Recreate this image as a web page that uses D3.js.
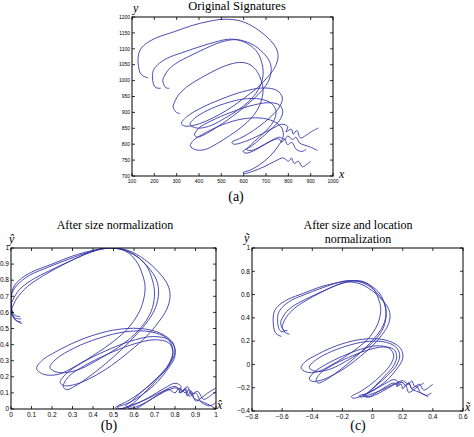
<!DOCTYPE html>
<html lang="en"><head>
<meta charset="utf-8">
<title>Signatures</title>
<script src="https://cdn.jsdelivr.net/npm/d3@7"></script>
<style>
body { margin: 0; background: #fff; }
text { font-family: "Liberation Serif", "Times New Roman", serif; }
.tick { font-family: "Liberation Sans", Arial, sans-serif; }
</style>
</head>
<body>
<script type="text/javascript">

// four signatures after size normalization
var sig1 = [[0.055,0.53],[0.03,0.545],[0.012,0.57],[0.003,0.62],[0.0,0.68],[0.01,0.75],[0.04,0.8],[0.1,0.85],[0.2,0.9],[0.3,0.95],[0.4,0.985],[0.48,1.0],[0.57,0.985],[0.65,0.93],[0.72,0.85],[0.765,0.77],[0.776,0.7],[0.76,0.62],[0.72,0.54],[0.66,0.45],[0.58,0.36],[0.49,0.27],[0.4,0.2],[0.32,0.155],[0.26,0.145],[0.24,0.165],[0.27,0.22],[0.35,0.29],[0.46,0.36],[0.58,0.42],[0.69,0.45],[0.77,0.43],[0.8,0.37],[0.78,0.29],[0.72,0.2],[0.64,0.11],[0.57,0.05],[0.52,0.015],[0.53,0.0],[0.59,0.02],[0.67,0.07],[0.75,0.13],[0.8,0.16],[0.83,0.14],[0.82,0.1],[0.85,0.12],[0.86,0.08],[0.88,0.11],[0.9,0.05],[0.93,0.07],[0.96,0.1],[1.0,0.13]];
var sig2 = [[0.05,0.56],[0.02,0.565],[0.005,0.6],[0.0,0.66],[0.005,0.72],[0.03,0.77],[0.09,0.83],[0.18,0.88],[0.28,0.93],[0.38,0.975],[0.46,1.0],[0.54,0.99],[0.61,0.95],[0.67,0.88],[0.71,0.8],[0.72,0.72],[0.705,0.63],[0.67,0.55],[0.61,0.46],[0.54,0.37],[0.46,0.28],[0.38,0.2],[0.31,0.14],[0.27,0.12],[0.255,0.14],[0.28,0.2],[0.36,0.27],[0.47,0.34],[0.59,0.4],[0.7,0.43],[0.77,0.41],[0.79,0.35],[0.77,0.27],[0.71,0.18],[0.65,0.1],[0.6,0.04],[0.57,0.01],[0.6,0.0],[0.66,0.04],[0.72,0.09],[0.77,0.12],[0.8,0.1],[0.82,0.13],[0.85,0.1],[0.87,0.12],[0.89,0.07],[0.92,0.05],[0.96,0.03],[1.0,0.0]];
var sig3 = [[0.045,0.575],[0.02,0.58],[0.006,0.61],[0.0,0.645],[0.01,0.68],[0.04,0.74],[0.1,0.8],[0.19,0.86],[0.29,0.92],[0.38,0.97],[0.45,0.995],[0.52,1.0],[0.6,0.96],[0.66,0.89],[0.69,0.8],[0.70,0.72],[0.69,0.63],[0.66,0.55],[0.6,0.46],[0.52,0.38],[0.43,0.31],[0.34,0.25],[0.26,0.225],[0.21,0.235],[0.19,0.26],[0.22,0.31],[0.31,0.38],[0.43,0.44],[0.56,0.48],[0.68,0.48],[0.76,0.44],[0.79,0.37],[0.77,0.28],[0.71,0.19],[0.64,0.11],[0.59,0.05],[0.56,0.02],[0.58,0.005],[0.64,0.03],[0.71,0.08],[0.77,0.12],[0.81,0.13],[0.83,0.1],[0.85,0.13],[0.87,0.08],[0.9,0.1],[0.93,0.04],[0.97,0.02],[1.0,0.04]];
var sig4 = [[0.05,0.54],[0.025,0.55],[0.008,0.575],[0.0,0.6],[0.006,0.63],[0.03,0.69],[0.08,0.76],[0.16,0.83],[0.26,0.9],[0.35,0.955],[0.43,0.99],[0.5,1.0],[0.56,0.98],[0.61,0.92],[0.64,0.84],[0.654,0.76],[0.645,0.67],[0.62,0.59],[0.57,0.5],[0.5,0.42],[0.41,0.34],[0.32,0.27],[0.23,0.215],[0.16,0.215],[0.125,0.25],[0.15,0.3],[0.24,0.37],[0.36,0.44],[0.5,0.49],[0.63,0.5],[0.73,0.47],[0.79,0.41],[0.8,0.33],[0.76,0.24],[0.7,0.15],[0.63,0.08],[0.56,0.03],[0.51,0.01],[0.52,0.0],[0.58,0.02],[0.66,0.06],[0.74,0.11],[0.8,0.14],[0.84,0.11],[0.86,0.14],[0.88,0.09],[0.91,0.11],[0.94,0.06],[0.97,0.08],[1.0,0.11]];
var signatures = [sig1, sig2, sig3, sig4];

// where each signature sits in the original data (panel a): [xmin, xmax, ymin, ymax]
var boxA = [[127, 935, 800, 1193], [192, 930, 780, 1130], [238, 880, 770, 1128], [284, 900, 708, 1057]];
// location shift of each signature in panel (c)
var shiftC = [[-0.66, -0.29], [-0.63, -0.28], [-0.61, -0.285], [-0.6, -0.28]];

var ticksAx = [100, 200, 300, 400, 500, 600, 700, 800, 900, 1000];
var ticksAy = [700, 750, 800, 850, 900, 950, 1000, 1050, 1100, 1150, 1200];
var ticksB = [0, 0.1, 0.2, 0.3, 0.4, 0.5, 0.6, 0.7, 0.8, 0.9, 1];
var ticksCx = [-0.8, -0.6, -0.4, -0.2, 0, 0.2, 0.4, 0.6];
var ticksCy = [-0.4, -0.2, 0, 0.2, 0.4, 0.6, 0.8, 1];

var width = 474, height = 437;
var lineColor = "#3838aa";

var svg = d3.select("body").append("svg")
    .attr("width", width)
    .attr("height", height);

var clipId = 0;

function panel(x, y, xticks, yticks, fs, curves) {
    var g = svg.append("g");
    var x0 = x.range()[0], x1 = x.range()[1];
    var y0 = y.range()[0], y1 = y.range()[1];
    var fmt = d3.format("~g");

    clipId++;
    svg.append("clipPath").attr("id", "clip" + clipId)
        .append("rect")
        .attr("x", x0).attr("y", y1)
        .attr("width", x1 - x0).attr("height", y0 - y1);

    var line = d3.line()
        .x(function(d) { return x(d[0]); })
        .y(function(d) { return y(d[1]); })
        .curve(d3.curveCatmullRom.alpha(0.5));

    g.append("g").attr("clip-path", "url(#clip" + clipId + ")")
        .selectAll("path")
        .data(curves)
        .enter()
        .append("path")
        .attr("d", line)
        .attr("fill", "none")
        .attr("stroke", lineColor)
        .attr("stroke-width", 0.9);

    // matlab style box with inner ticks on all sides
    g.append("rect")
        .attr("x", x0).attr("y", y1)
        .attr("width", x1 - x0).attr("height", y0 - y1)
        .attr("fill", "none").attr("stroke", "#000").attr("stroke-width", 1);

    xticks.forEach(function(t) {
        var px = x(t);
        g.append("line").attr("x1", px).attr("x2", px).attr("y1", y0).attr("y2", y0 - 3)
            .attr("stroke", "#000").attr("stroke-width", 0.8);
        g.append("line").attr("x1", px).attr("x2", px).attr("y1", y1).attr("y2", y1 + 3)
            .attr("stroke", "#000").attr("stroke-width", 0.8);
        g.append("text").attr("class", "tick")
            .attr("x", px).attr("y", y0 + fs + 1.5)
            .attr("text-anchor", "middle")
            .attr("font-size", fs)
            .text(fmt(t));
    });
    yticks.forEach(function(t) {
        var py = y(t);
        g.append("line").attr("x1", x0).attr("x2", x0 + 3).attr("y1", py).attr("y2", py)
            .attr("stroke", "#000").attr("stroke-width", 0.8);
        g.append("line").attr("x1", x1).attr("x2", x1 - 3).attr("y1", py).attr("y2", py)
            .attr("stroke", "#000").attr("stroke-width", 0.8);
        g.append("text").attr("class", "tick")
            .attr("x", x0 - 2).attr("y", py + fs * 0.35)
            .attr("text-anchor", "end")
            .attr("font-size", fs)
            .text(fmt(t));
    });
    return g;
}

function label(px, py, str, size, italic, anchor) {
    svg.append("text")
        .attr("x", px).attr("y", py)
        .attr("font-size", size)
        .attr("font-style", italic ? "italic" : "normal")
        .attr("text-anchor", anchor || "middle")
        .text(str);
}

// (a) original signatures
var xA = d3.scaleLinear().domain([100, 1000]).range([132, 333]);
var yA = d3.scaleLinear().domain([700, 1200]).range([176, 17]);
var curvesA = signatures.map(function(s, i) {
    var b = boxA[i];
    return s.map(function(p) {
        return [b[0] + p[0] * (b[1] - b[0]), b[2] + p[1] * (b[3] - b[2])];
    });
});
panel(xA, yA, ticksAx, ticksAy, 5, curvesA);
label(237, 10, "Original Signatures", 12.5);
label(133, 12, "y", 12, true, "start");
label(339, 178, "x", 12, true, "start");
label(236, 201, "(a)", 14);

// (b) size normalized
var xB = d3.scaleLinear().domain([0, 1]).range([11, 216]);
var yB = d3.scaleLinear().domain([0, 1]).range([409, 248]);
panel(xB, yB, ticksB, ticksB, 6.5, signatures);
label(115, 229, "After size normalization", 12);
label(9, 243, "\u0177", 12, true, "start");
label(217, 409, "x\u0302", 12, true, "start");
label(109, 430, "(b)", 14);

// (c) size and location normalized
var xC = d3.scaleLinear().domain([-0.8, 0.6]).range([252, 463]);
var yC = d3.scaleLinear().domain([-0.4, 1]).range([411, 248]);
var curvesC = signatures.map(function(s, i) {
    return s.map(function(p) { return [p[0] + shiftC[i][0], p[1] + shiftC[i][1]]; });
});
panel(xC, yC, ticksCx, ticksCy, 6.5, curvesC);
label(358, 229, "After size and location", 12);
label(358, 243, "normalization", 12);
label(244, 242, "y\u0303", 12, true, "start");
label(465, 411, "x\u0303", 12, true, "start");
label(358, 430, "(c)", 14);

</script>
</body></html>
